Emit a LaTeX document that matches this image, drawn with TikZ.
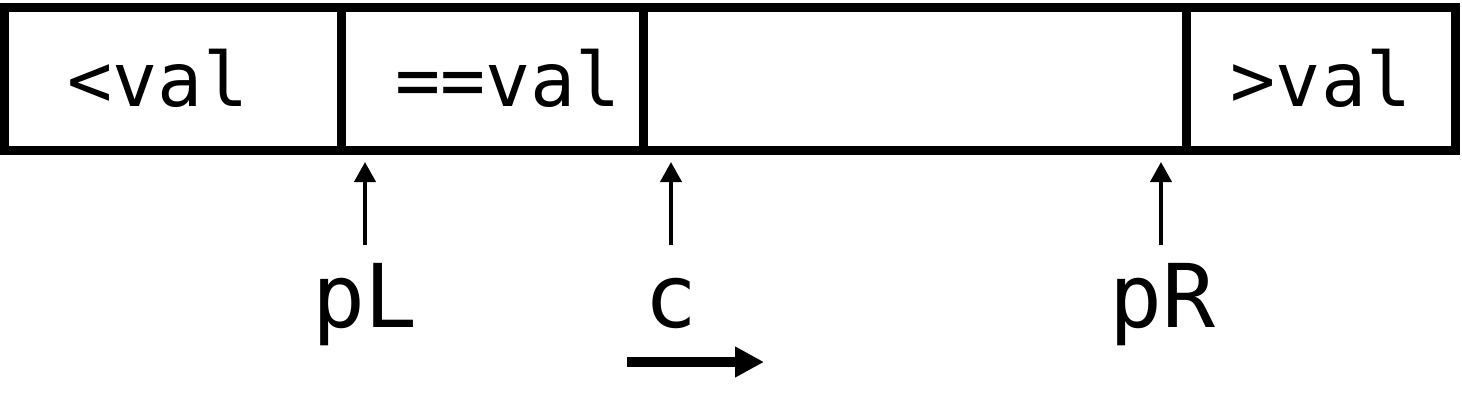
\documentclass[tikz,border=0pt]{standalone}
\usepackage{fontspec}
\newfontfamily\monofnt{DejaVu Sans Mono}
\usetikzlibrary{arrows.meta}
\begin{document}
\begin{tikzpicture}[x=0.5pt,y=-0.5pt,
  boxline/.style={line width=4.5pt},
  celltext/.style={font=\monofnt\fontsize{37.5pt}{40pt}\selectfont,anchor=base,inner sep=0pt},
  ptrlabel/.style={font=\monofnt\fontsize{44pt}{48pt}\selectfont,anchor=base,inner sep=0pt},
  ptrarrow/.style={line width=2pt,-{Triangle[length=10pt,width=10.5pt]}},
  dirarrow/.style={line width=5pt,-{Triangle[length=14.5pt,width=14.5pt]}}]
\useasboundingbox (0,0) rectangle (1462,414);
% array cells
\draw[boxline] (4.5,7.5) rectangle (1455.5,150);
\coordinate (d1t) at (341,7.5); \coordinate (d1b) at (341,150);
\coordinate (d2t) at (643,7.5); \coordinate (d2b) at (643,150);
\coordinate (d3t) at (1186,7.5); \coordinate (d3b) at (1186,150);
\draw[boxline] (d1t) -- (d1b);
\draw[boxline] (d2t) -- (d2b);
\draw[boxline] (d3t) -- (d3b);
\node[celltext] (lt) at (158,106) {<val};
\node[celltext] (eq) at (508,106) {==val};
\node[celltext] (gt) at (1321,106) {>val};
% pointers
\coordinate (pLtail) at (365,245); \coordinate (pLtip) at (365,162);
\coordinate (ctail) at (671,245); \coordinate (ctip) at (671,162);
\coordinate (pRtail) at (1161,245); \coordinate (pRtip) at (1161,162);
\draw[ptrarrow] (pLtail) -- (pLtip);
\draw[ptrarrow] (ctail) -- (ctip);
\draw[ptrarrow] (pRtail) -- (pRtip);
\node[ptrlabel] (pL) at (365,327) {pL};
\node[ptrlabel] (c) at (671,327) {c};
\node[ptrlabel] (pR) at (1162,327) {pR};
% direction of c
\coordinate (dirs) at (627,362); \coordinate (dire) at (764,362);
\draw[dirarrow] (dirs) -- (dire);
\end{tikzpicture}
\end{document}
